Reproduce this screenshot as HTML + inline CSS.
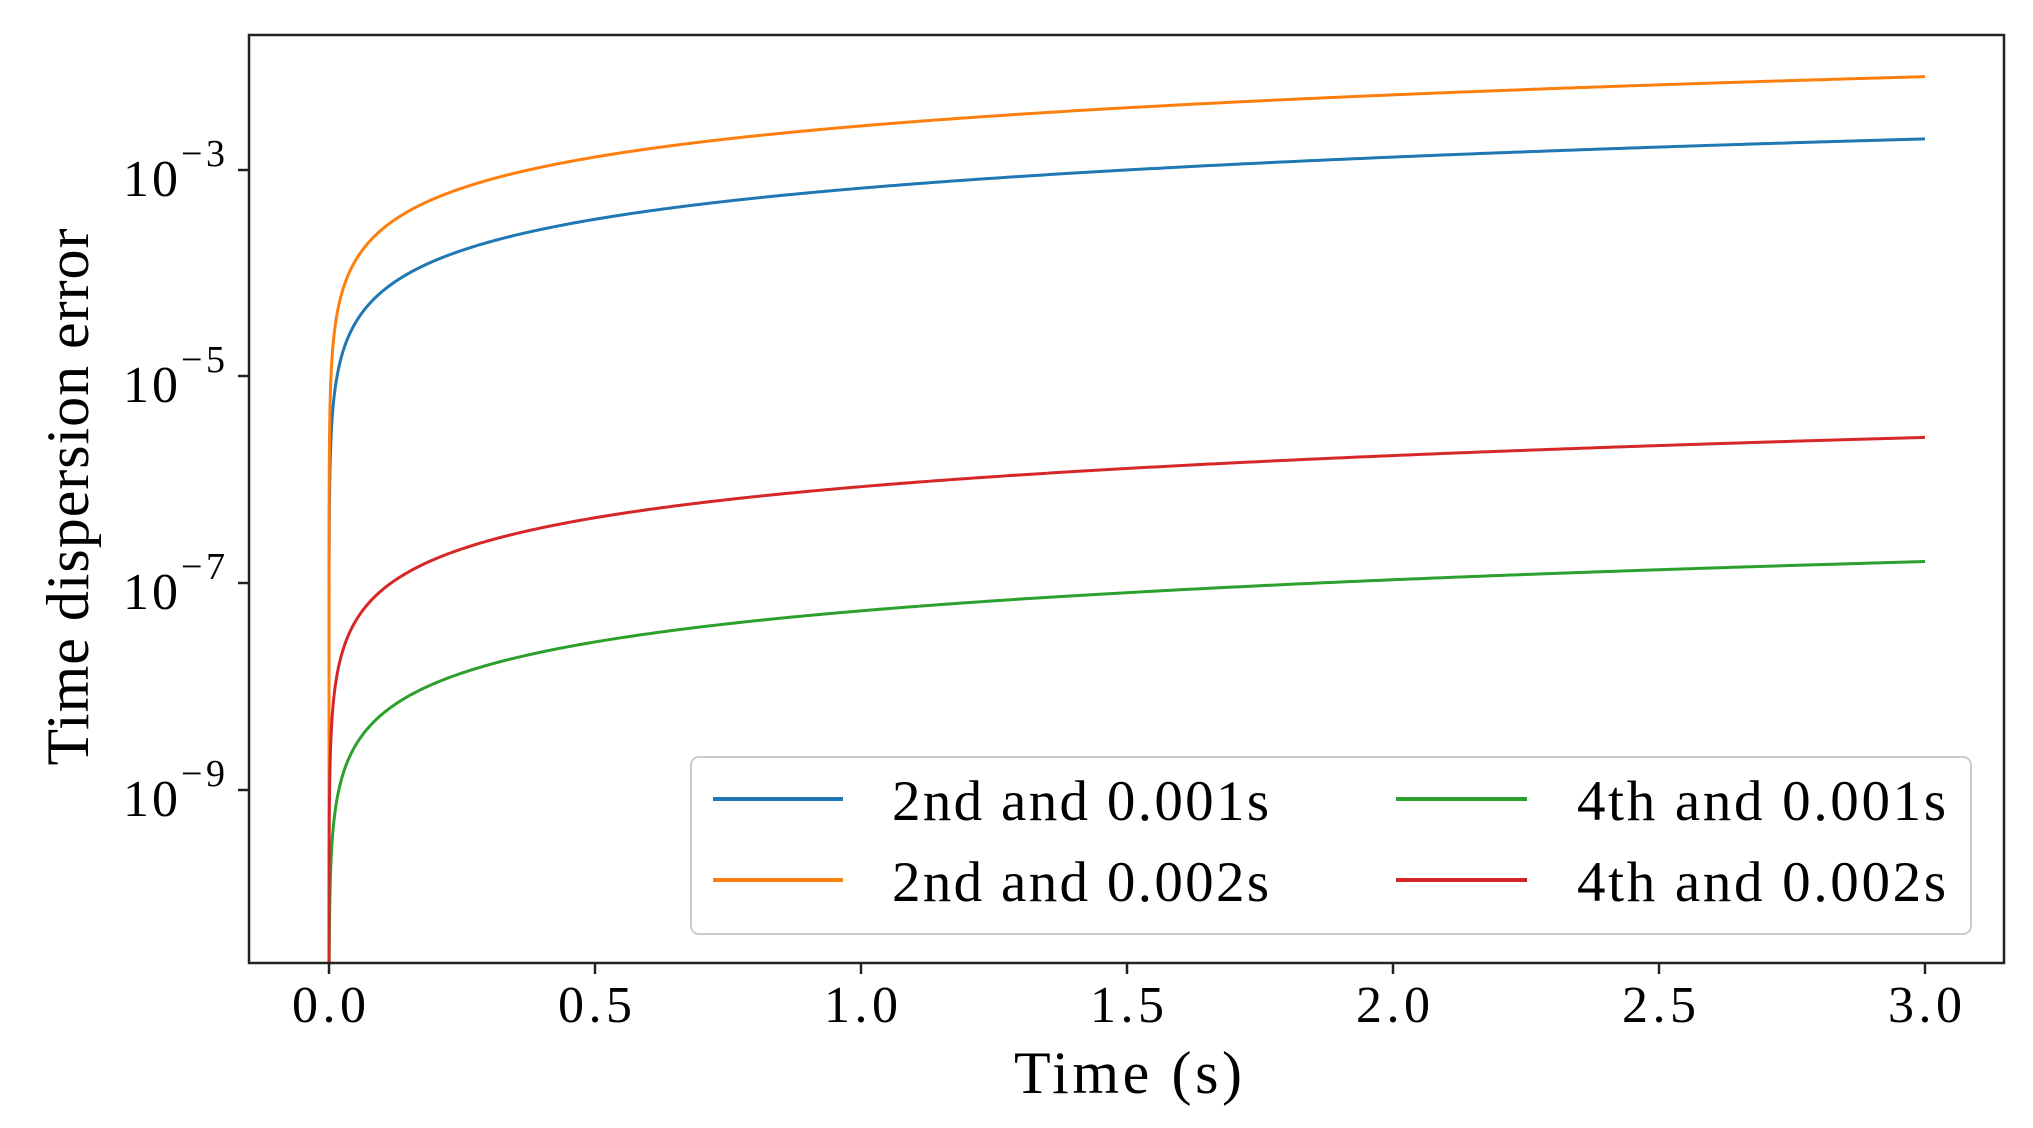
<!DOCTYPE html>
<html><head><meta charset="utf-8"><style>
html,body{margin:0;padding:0;background:#fff;}
svg{display:block;}
text{font-family:"Liberation Serif",serif;fill:#000;}
</style></head><body>
<svg id="s" width="2033" height="1128" viewBox="0 0 2033 1128" xmlns="http://www.w3.org/2000/svg">
<rect width="2033" height="1128" fill="#fff"/>
<g id="curves" fill="none" stroke-width="3"></g>
<rect x="249" y="35" width="1755" height="928" fill="none" stroke="#222" stroke-width="2.5"/>
<g stroke="#222" stroke-width="2.5">
<line x1="329" y1="963" x2="329" y2="974"/><line x1="595" y1="963" x2="595" y2="974"/>
<line x1="861" y1="963" x2="861" y2="974"/><line x1="1127" y1="963" x2="1127" y2="974"/>
<line x1="1393" y1="963" x2="1393" y2="974"/><line x1="1659" y1="963" x2="1659" y2="974"/>
<line x1="1925" y1="963" x2="1925" y2="974"/>
<line x1="238" y1="170" x2="249" y2="170"/><line x1="238" y1="376" x2="249" y2="376"/>
<line x1="238" y1="583" x2="249" y2="583"/><line x1="238" y1="790" x2="249" y2="790"/>
</g>
<g font-size="52" text-anchor="middle">
<text x="329" y="1022" textLength="74">0.0</text><text x="595" y="1022" textLength="74">0.5</text>
<text x="861" y="1022" textLength="74">1.0</text><text x="1127" y="1022" textLength="74">1.5</text>
<text x="1393" y="1022" textLength="74">2.0</text><text x="1659" y="1022" textLength="74">2.5</text>
<text x="1925" y="1022" textLength="74">3.0</text>
</g>
<g font-size="52">
<text x="123" y="196" textLength="55">10</text><text x="181" y="166" font-size="38" textLength="44">−3</text>
<text x="123" y="402" textLength="55">10</text><text x="181" y="372" font-size="38" textLength="44">−5</text>
<text x="123" y="609" textLength="55">10</text><text x="181" y="579" font-size="38" textLength="44">−7</text>
<text x="123" y="816" textLength="55">10</text><text x="181" y="786" font-size="38" textLength="44">−9</text>
</g>
<text x="1128" y="1093" font-size="60" text-anchor="middle" textLength="228">Time (s)</text>
<text transform="translate(88,497) rotate(-90)" font-size="60" text-anchor="middle" textLength="537">Time dispersion error</text>
<rect x="691" y="757" width="1280" height="177" rx="8" fill="#fff" fill-opacity="0.85" stroke="#ccc" stroke-width="2"/>
<g stroke-width="4">
<line x1="713" y1="799" x2="843" y2="799" stroke="#1f77b4"/>
<line x1="713" y1="880" x2="843" y2="880" stroke="#ff7f0e"/>
<line x1="1396" y1="799" x2="1527" y2="799" stroke="#2ca02c"/>
<line x1="1396" y1="880" x2="1527" y2="880" stroke="#d62728"/>
</g>
<g font-size="57">
<text x="892" y="820" textLength="377">2nd and 0.001s</text>
<text x="892" y="901" textLength="377">2nd and 0.002s</text>
<text x="1577" y="820" textLength="369">4th and 0.001s</text>
<text x="1577" y="901" textLength="369">4th and 0.002s</text>
</g>
</svg>
<script>
(function(){
var g=document.getElementById('curves');
var series=[[6.67e-4,'#1f77b4'],[2.67e-3,'#ff7f0e'],[5.4e-8,'#2ca02c'],[8.6e-7,'#d62728']];
function X(t){return 329+t*532;}
function Y(v){var l=Math.log10(v);return 170-(l+3)*103.3;}
series.forEach(function(s){
 var d='M'+X(0)+',963';
 for(var i=1;i<=600;i++){
  var t=3*Math.pow(i/600,2.5);
  var y=Math.min(963,Y(s[0]*t));
  d+=' L'+X(t).toFixed(2)+','+y.toFixed(2);
 }
 var p=document.createElementNS('http://www.w3.org/2000/svg','path');
 p.setAttribute('d',d);p.setAttribute('stroke',s[1]);
 g.appendChild(p);
});
})();
</script>
</body></html>
